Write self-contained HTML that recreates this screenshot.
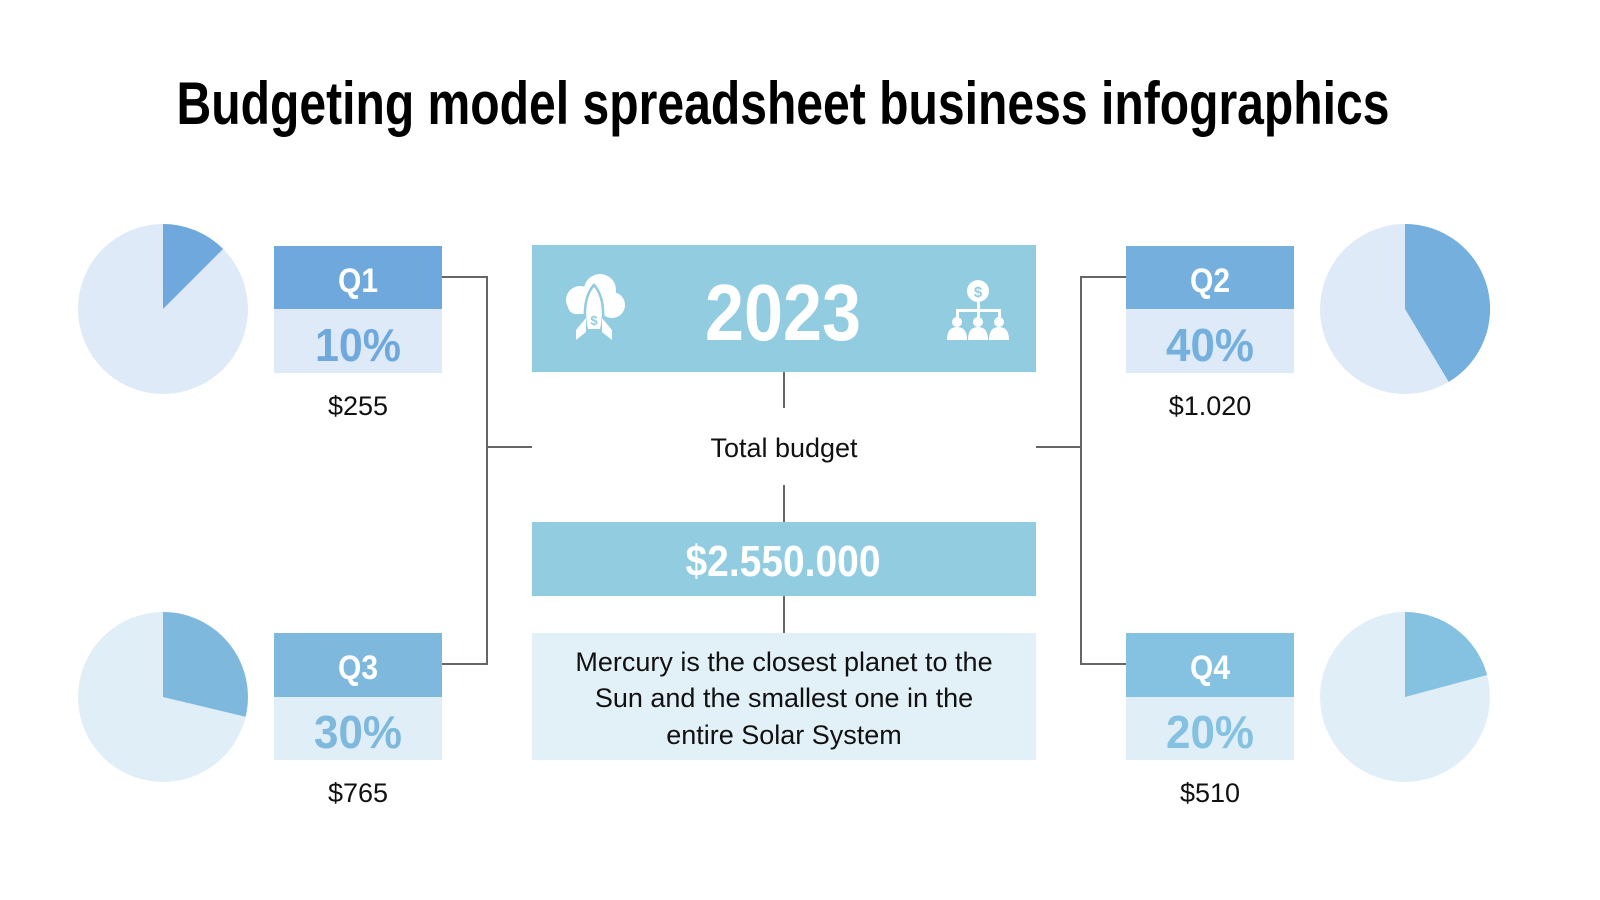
<!DOCTYPE html>
<html><head><meta charset="utf-8"><style>body{margin:0;background:#fff}svg{display:block}</style></head>
<body>
<svg width="1600" height="900" viewBox="0 0 1600 900" xmlns="http://www.w3.org/2000/svg">
<rect width="1600" height="900" fill="#fff"/>
<text x="783" y="124" text-anchor="middle" font-family="Liberation Sans Narrow, Liberation Sans, sans-serif" font-weight="bold" font-size="60" textLength="1213" lengthAdjust="spacingAndGlyphs" fill="#000">Budgeting model spreadsheet business infographics</text>

<!-- lines -->
<g stroke="#666" stroke-width="2" fill="none">
<polyline points="442,277 487,277 487,664 442,664"/>
<line x1="487" y1="447" x2="532" y2="447"/>
<polyline points="1126,277 1081,277 1081,664 1126,664"/>
<line x1="1036" y1="447" x2="1081" y2="447"/>
<line x1="784" y1="372" x2="784" y2="408"/>
<line x1="784" y1="485" x2="784" y2="522"/>
<line x1="784" y1="596" x2="784" y2="633"/>
</g>

<!-- pies -->
<circle cx="163" cy="309" r="85" fill="#deeaf7"/>
<path d="M163,309 L163,224 A85,85 0 0 1 223.1,248.9 Z" fill="#6fa8dc"/>
<circle cx="1405" cy="309" r="85" fill="#deeaf7"/>
<path d="M1405,309 L1405,224 A85,85 0 0 1 1448.8,381.9 Z" fill="#74afdd"/>
<circle cx="163" cy="697" r="85" fill="#e0eef7"/>
<path d="M163,697 L163,612 A85,85 0 0 1 245.6,716.8 Z" fill="#7fb8dd"/>
<circle cx="1405" cy="697" r="85" fill="#e0eff7"/>
<path d="M1405,697 L1405,612 A85,85 0 0 1 1487.1,675 Z" fill="#85c1e0"/>

<!-- Q boxes -->
<g font-family="Liberation Sans Narrow, Liberation Sans, sans-serif" font-weight="bold" text-anchor="middle">
<rect x="274" y="246" width="168" height="63" fill="#6fa8dc"/><rect x="274" y="309" width="168" height="64" fill="#deeaf7"/>
<text x="358" y="292" font-size="34" fill="#fff" textLength="40" lengthAdjust="spacingAndGlyphs">Q1</text>
<text x="358" y="361" font-size="46" fill="#6fa8dc" textLength="86" lengthAdjust="spacingAndGlyphs">10%</text>
<rect x="1126" y="246" width="168" height="63" fill="#74afdd"/><rect x="1126" y="309" width="168" height="64" fill="#deeaf7"/>
<text x="1210" y="292" font-size="34" fill="#fff" textLength="40" lengthAdjust="spacingAndGlyphs">Q2</text>
<text x="1210" y="361" font-size="46" fill="#74afdd" textLength="88" lengthAdjust="spacingAndGlyphs">40%</text>
<rect x="274" y="633" width="168" height="64" fill="#7fb8dd"/><rect x="274" y="697" width="168" height="63" fill="#e0eef7"/>
<text x="358" y="679" font-size="34" fill="#fff" textLength="40" lengthAdjust="spacingAndGlyphs">Q3</text>
<text x="358" y="748" font-size="46" fill="#7fb8dd" textLength="88" lengthAdjust="spacingAndGlyphs">30%</text>
<rect x="1126" y="633" width="168" height="64" fill="#85c1e0"/><rect x="1126" y="697" width="168" height="63" fill="#e0eff7"/>
<text x="1210" y="679" font-size="34" fill="#fff" textLength="40" lengthAdjust="spacingAndGlyphs">Q4</text>
<text x="1210" y="748" font-size="46" fill="#85c1e0" textLength="88" lengthAdjust="spacingAndGlyphs">20%</text>

<rect x="532" y="245" width="504" height="127" fill="#92cce1"/>
<text x="783" y="340" font-size="80" fill="#fff" textLength="156" lengthAdjust="spacingAndGlyphs">2023</text>
<rect x="532" y="522" width="504" height="74" fill="#92cce1"/>
<text x="783" y="576" font-size="44" fill="#fff" textLength="195" lengthAdjust="spacingAndGlyphs">$2.550.000</text>
</g>
<rect x="532" y="633" width="504" height="127" fill="#e2f0f7"/>

<!-- icons -->
<g fill="#fff">
<circle cx="580" cy="300" r="14"/><circle cx="600" cy="290" r="16"/><circle cx="612" cy="305" r="13"/><rect x="568" y="298" width="56" height="16" rx="8"/>
<path d="M594,283 C582,295 582,318 586,332 L602,332 C606,318 606,295 594,283 Z" fill="#92cce1"/>
<path d="M594,287 C585,298 585,316 588,329 L600,329 C603,316 603,298 594,287 Z"/>
<path d="M586,318 L576,330 L576,340 L586,332 Z M602,318 L612,330 L612,340 L602,332 Z"/>
<text x="594" y="325" font-family="Liberation Sans, sans-serif" font-size="13" font-weight="bold" fill="#92cce1" text-anchor="middle">$</text>
<circle cx="978" cy="291" r="11"/>
<text x="978" y="297" font-family="Liberation Sans, sans-serif" font-size="15" font-weight="bold" fill="#92cce1" text-anchor="middle">$</text>
<rect x="977" y="302" width="3" height="8"/><rect x="956" y="309" width="45" height="3"/>
<rect x="956" y="309" width="3" height="8"/><rect x="977" y="309" width="3" height="8"/><rect x="998" y="309" width="3" height="8"/>
<circle cx="957" cy="322" r="5"/><circle cx="978" cy="322" r="5"/><circle cx="999" cy="322" r="5"/>
<path d="M947,340 Q947,327 957,327 Q967,327 967,340 Z M968,340 Q968,327 978,327 Q988,327 988,340 Z M989,340 Q989,327 999,327 Q1009,327 1009,340 Z"/>
</g>

<g font-family="Liberation Sans, sans-serif" font-size="27" fill="#111" text-anchor="middle">
<text x="358" y="415">$255</text>
<text x="1210" y="415">$1.020</text>
<text x="358" y="802">$765</text>
<text x="1210" y="802">$510</text>
<text x="784" y="457">Total budget</text>
<text x="784" y="671">Mercury is the closest planet to the</text>
<text x="784" y="707">Sun and the smallest one in the</text>
<text x="784" y="744">entire Solar System</text>
</g>
</svg>
</body></html>
